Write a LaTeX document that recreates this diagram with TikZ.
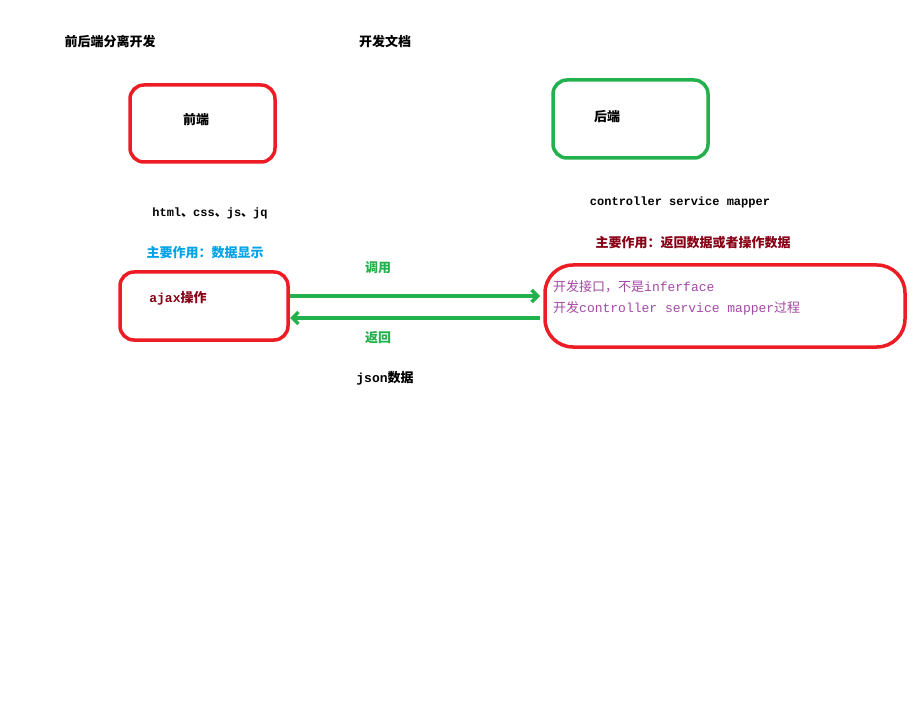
\documentclass[tikz,border=0pt]{standalone}
\usetikzlibrary{arrows.meta}
\usepackage{fontspec}
\setmainfont{Noto Sans CJK SC}
\setmonofont{Liberation Mono}
\newfontfamily\cjk{Noto Sans CJK SC}
\definecolor{rd}{RGB}{237,28,36}
\definecolor{gn}{RGB}{34,177,76}
\definecolor{dr}{RGB}{136,0,21}
\definecolor{bl}{RGB}{0,162,232}
\definecolor{pu}{RGB}{163,73,164}
\begin{document}
\begin{tikzpicture}[x=1pt,y=-1pt,
  box/.style={draw=rd,line width=3.5pt,rounded corners=14pt},
  gbox/.style={draw=gn,line width=3.5pt,rounded corners=14pt},
  lbl/.style={font=\bfseries\fontsize{13}{15}\selectfont,inner sep=0pt},
  arr/.style={draw=gn,line width=3.5pt,-{Straight Barb[length=6pt,width=12pt]}}]
\useasboundingbox[fill=white] (0,0) rectangle (919,714);
\node[lbl] (t1) at (110,42) {前后端分离开发};
\node[lbl] (t2) at (385,42) {开发文档};
\draw[box] (130,85) rectangle (275,162);
\node[lbl] (fe) at (196,120) {前端};
\draw[gbox] (553,80) rectangle (708,158);
\node[lbl] (be) at (607,117) {后端};
\node[lbl,font=\bfseries\ttfamily\fontsize{12}{14}\selectfont] (tech) at (210,213) {html{\cjk 、}css{\cjk 、}js{\cjk 、}jq};
\node[lbl,font=\bfseries\ttfamily\fontsize{12}{14}\selectfont] (tech2) at (680,202) {controller service  mapper};
\node[lbl,text=bl] (r1) at (205,253) {主要作用：数据显示};
\node[lbl,text=dr] (r2) at (693,243) {主要作用：返回数据或者操作数据};
\draw[box] (120,272) rectangle (288,340);
\node[lbl,text=dr] (aj) at (178,298) {\ttfamily ajax{\cjk 操作}};
\draw[draw=rd,line width=3.5pt,rounded corners=28pt] (545,265) rectangle (905,347);
\node[anchor=west,inner sep=0pt,text=pu,font=\fontsize{13}{15}\selectfont] (p1) at (553,287) {开发接口，不是{\ttfamily inferface}};
\node[anchor=west,inner sep=0pt,text=pu,font=\fontsize{13}{15}\selectfont] (p2) at (553,308) {开发{\ttfamily controller service mapper}过程};
\coordinate (a1) at (290,296); \coordinate (b1) at (540,296);
\coordinate (a2) at (540,318); \coordinate (b2) at (290,318);
\draw[arr] (a1) -- (b1);
\draw[arr] (a2) -- (b2);
\node[lbl,text=gn] (c1) at (378,268) {调用};
\node[lbl,text=gn] (c2) at (378,338) {返回};
\node[lbl] (js) at (385,378) {\ttfamily json{\cjk 数据}};
\end{tikzpicture}
\end{document}
